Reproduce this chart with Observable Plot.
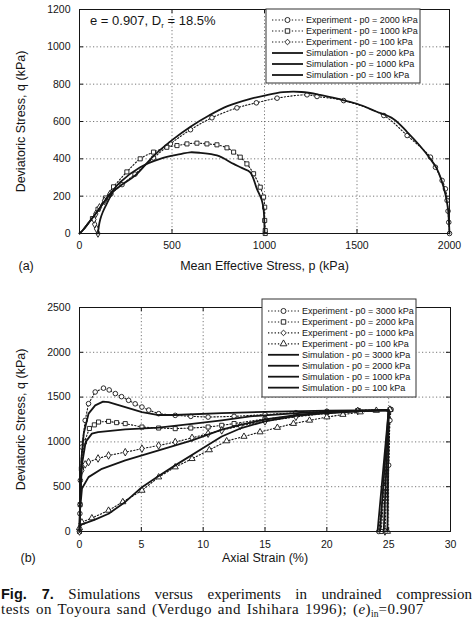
<!DOCTYPE html>
<html>
<head>
<meta charset="utf-8">
<script src="https://cdn.jsdelivr.net/npm/d3@7"></script>
<script src="https://cdn.jsdelivr.net/npm/@observablehq/plot@0.6"></script>
<style>
  body { margin: 0; background: #fff; }
  #fig { position: relative; width: 474px; height: 629px; overflow: hidden; background: #fff; color: #111;
         font-family: "Liberation Sans", Arial, Helvetica, sans-serif; }
  #pa { position: absolute; left: 0; top: 0; }
  #pb { position: absolute; left: 0; top: 290px; }
  #cap { position: absolute; left: 1px; top: 587px; width: 471px; color: #111;
         font-family: "Liberation Serif", "Times New Roman", serif; font-size: 15px; line-height: 14.5px; }
  #cap .l1 { text-align: justify; text-align-last: justify; white-space: nowrap; }
  #cap .l2 { letter-spacing: 0.5px; word-spacing: 1.6px; white-space: nowrap; }
  #cap b { font-family: "Liberation Sans", Arial, sans-serif; font-size: 14.5px; }
  #cap sub { font-size: 9.5px; line-height: 0; vertical-align: -3px; letter-spacing: 0; }
</style>
</head>
<body>
<div id="fig">
  <div id="pa"></div>
  <div id="pb"></div>
  <div id="cap">
    <div class="l1"><b>Fig. 7.</b> Simulations versus experiments in undrained compression</div>
    <div class="l2">tests on Toyoura sand (Verdugo and Ishihara 1996); (<i>e</i>)<sub>in</sub>=0.907</div>
  </div>
</div>
<script>
// ---------- (a) effective stress paths: [p (kPa), q (kPa)] ----------
const expA2000 = [[2000,0],[1996,60],[1992,120],[1987,177],[1978,239],[1960,284],[1924,355],[1897,409],
  [1771,525],[1645,632],[1428,712],[1284,734],[1230,743],[1068,725],[956,700],[851,673],[716,620],
  [600,556],[491,480],[400,405],[300,318],[230,262],[170,212]];
const expA1000 = [[1004,0],[1004,16],[1001,70],[1001,141],[995,195],[977,248],[941,320],[905,373],
  [869,409],[833,436],[797,459],[743,475],[689,480],[635,484],[581,480],[527,471],[472,462],[400,436],
  [328,400],[256,330],[184,250],[140,190],[100,130],[70,80]];
const expA100 = [[100,0],[92,25],[82,50],[78,75],[88,105],[108,140],[135,175],[165,212]];
const simA2000 = [[2000,0],[1997,60],[1992,130],[1978,210],[1955,290],[1930,350],[1896,400],[1840,470],
  [1770,545],[1697,614],[1600,655],[1500,695],[1400,721],[1300,743],[1200,758],[1100,757],[1000,739],
  [923,721],[800,682],[700,632],[600,572],[500,500],[400,415],[300,310],[230,262],[166,212],[130,165],
  [90,110],[50,58],[20,20],[0,0]];
const simA1000 = [[1000,0],[999,60],[995,130],[985,180],[959,239],[923,328],[880,350],[833,373],
  [743,418],[653,432],[598,435],[545,425],[436,400],[328,355],[220,275],[166,212],[130,165],[90,110],
  [50,58],[20,20],[0,0]];
const simA100 = [[100,0],[104,35],[112,75],[126,115],[145,155],[168,200],[180,222]];

const legendA = ["Experiment - p0 = 2000 kPa", "Experiment - p0 = 1000 kPa", "Experiment - p0 = 100 kPa",
  "Simulation - p0 = 2000 kPa", "Simulation - p0 = 1000 kPa", "Simulation - p0 = 100 kPa"];
const aXTicks = [0, 500, 1000, 1500, 2000];
const aYTicks = [0, 200, 400, 600, 800, 1000, 1200];

// ---------- (b) stress-strain curves: [axial strain (%), q (kPa)] ----------
const expB3000 = [[0,0],[0.03,200],[0.07,570],[0.19,942],[0.46,1240],[0.73,1427],[1.27,1557],[1.94,1600],
  [2.4,1580],[2.9,1539],[3.4,1505],[3.97,1464],[4.5,1425],[5.05,1389],[5.6,1355],[6.4,1315],[7.74,1296],
  [9,1285],[10.4,1277],[12.5,1285],[15,1305],[17.5,1325],[20,1342],[22.5,1352],[25.2,1362],[25.1,1240],
  [25.0,740],[24.6,490],[24.2,0]];
const expB2000 = [[0,0],[0.05,300],[0.15,700],[0.4,1000],[0.8,1150],[1.2,1190],[1.54,1222],[2.35,1229],
  [3.0,1215],[3.7,1204],[5.05,1166],[6.4,1155],[7.74,1148],[9,1155],[10.4,1166],[11.5,1185],[12.5,1205],
  [15,1255],[17.5,1295],[20,1330],[22.5,1350],[25.1,1360],[24.4,0]];
const expB1000 = [[0,0],[0.05,300],[0.19,682],[0.46,749],[0.73,775],[1.5,815],[2.35,849],[3.7,885],
  [5.05,924],[6.4,960],[7.74,998],[9.1,1045],[10.4,1092],[11.5,1129],[13,1180],[15,1230],[17.5,1280],
  [20,1320],[22.5,1345],[25.1,1360],[24.7,0]];
const expB100 = [[0,40],[0.19,104],[1,150],[2.35,235],[3.5,330],[5.05,458],[6.4,607],[7.74,719],[9.1,812],
  [10.5,910],[11.9,1010],[13.3,1060],[14.6,1110],[16,1160],[17.3,1204],[18.6,1240],[20,1277],[21.3,1305],
  [22.7,1333],[24,1350],[25.1,1360],[24.9,0]];
const simB3000 = [[0,0],[0.05,400],[0.15,800],[0.35,1100],[0.73,1315],[1.27,1408],[1.9,1450],[2.35,1445],
  [3.7,1389],[5.05,1333],[6.4,1300],[7.7,1300],[11.5,1322],[15,1336],[20,1350],[25,1355],[24.1,0]];
const simB2000 = [[0,0],[0.05,350],[0.2,750],[0.5,1000],[1.0,1092],[1.5,1110],[3.7,1140],[6.4,1160],
  [9.1,1200],[11.5,1240],[13.8,1285],[17.9,1324],[20.6,1340],[25,1355],[24.3,0]];
const simB1000 = [[0,0],[0.05,250],[0.2,480],[0.73,607],[1.81,700],[3.7,793],[6.4,905],[9.1,1017],
  [11.5,1136],[13,1190],[15,1250],[17.5,1300],[20,1330],[25,1355],[24.6,0]];
const simB100 = [[0,50],[0.19,80],[1.2,130],[2.35,198],[3.7,330],[5.05,495],[6.4,620],[7.74,738],[9.9,924],
  [11.5,1060],[13,1150],[15,1230],[17.5,1290],[20,1320],[22.5,1340],[25,1355],[24.9,0]];

const legendB = ["Experiment - p0 = 3000 kPa", "Experiment - p0 = 2000 kPa", "Experiment - p0 = 1000 kPa",
  "Experiment - p0 = 100 kPa", "Simulation - p0 = 3000 kPa", "Simulation - p0 = 2000 kPa",
  "Simulation - p0 = 1000 kPa", "Simulation - p0 = 100 kPa"];
const bXTicks = [0, 5, 10, 15, 20, 25, 30];
const bYTicks = [0, 500, 1000, 1500, 2000, 2500];

// ---------- drawing ----------
const FONT = "'Liberation Sans', Arial, Helvetica, sans-serif";
const INK = "#151515";
const symbolOf = {circle: d3.symbolCircle, square: d3.symbolSquare, diamond: d3.symbolDiamond2, triangle: d3.symbolTriangle};

function panel(o) {
  const W = 474, H = o.height - o.mt - o.mb, fw = W - o.ml - o.mr;
  const toRows = sets => sets.flatMap((s, k) => s.map(([x, y]) => ({x, y, k})));
  const exp = toRows(o.exp), sim = toRows(o.sim);
  const grid = {stroke: "#555", strokeOpacity: 1, strokeWidth: 0.8, strokeDasharray: "1.2,2.3"};
  const plain = d => String(d);
  return Plot.plot({
    width: W, height: o.height,
    marginLeft: o.ml, marginRight: o.mr, marginTop: o.mt, marginBottom: o.mb,
    style: {fontFamily: FONT, fontSize: "10.5px", color: INK, background: "white", overflow: "visible"},
    x: {domain: o.xDomain}, y: {domain: o.yDomain},
    marks: [
      Plot.gridX(o.xTicks, grid),
      Plot.gridY(o.yTicks, grid),
      Plot.ruleX(o.xTicks, {x: d => d, insetTop: H - 4, stroke: INK}),
      Plot.ruleX(o.xTicks, {x: d => d, insetBottom: H - 4, stroke: INK}),
      Plot.ruleY(o.yTicks, {y: d => d, insetRight: fw - 4, stroke: INK}),
      Plot.ruleY(o.yTicks, {y: d => d, insetLeft: fw - 4, stroke: INK}),
      Plot.line(exp, {x: "x", y: "y", z: "k", stroke: INK, strokeWidth: 1.1, strokeDasharray: "1.3,2",
        curve: o.curve}),
      ...o.exp.map((s, k) => Plot.dot(s, {x: d => d[0], y: d => d[1], symbol: o.symbols[k], r: 2.3,
        fill: "white", stroke: INK, strokeWidth: 0.9})),
      Plot.line(sim, {x: "x", y: "y", z: "k", stroke: INK, strokeWidth: 1.8, curve: o.curve}),
      Plot.frame({stroke: INK, strokeWidth: 1}),
      Plot.axisX(o.xTicks, {tickSize: 0, tickPadding: o.xPad, label: null, fontSize: 10.5, tickFormat: plain}),
      Plot.axisY(o.yTicks, {tickSize: 0, tickPadding: 9, label: null, fontSize: 10.5, tickFormat: plain}),
      Plot.text([o.xLabel], {frameAnchor: "bottom", dy: o.labelDy, fontSize: 12.5, fill: INK, textAnchor: "middle"}),
      Plot.text([o.tag], {frameAnchor: "bottom-left", dx: o.tagDx, dy: o.labelDy, fontSize: 12.5,
        textAnchor: "start", fill: INK}),
      Plot.text([o.yLabel], {frameAnchor: "left", dx: -59, rotate: -90, fontSize: 12.5, fill: INK,
        textAnchor: "middle"})
    ]
  });
}

function legend(svg, labels, symbols, box) {
  const g = d3.select(svg).append("g").attr("font-family", FONT).attr("font-size", 9)
    .attr("fill", INK).attr("text-anchor", "start");
  g.append("rect").attr("x", box.x).attr("y", box.y).attr("width", box.w).attr("height", box.h)
    .attr("fill", "white").attr("stroke", "#333").attr("stroke-width", 1);
  labels.forEach((label, i) => {
    const y = box.row0 + i * box.dy;
    const isExp = i < symbols.length;
    g.append("line").attr("x1", box.x + 6).attr("x2", box.x + 37).attr("y1", y).attr("y2", y)
      .attr("stroke", INK).attr("stroke-width", isExp ? 1.1 : 1.8)
      .attr("stroke-dasharray", isExp ? "1.3,2" : null);
    if (isExp) {
      g.append("path").attr("d", d3.symbol(symbolOf[symbols[i]], 20)())
        .attr("transform", `translate(${box.x + 21.5},${y})`)
        .attr("fill", "white").attr("stroke", INK).attr("stroke-width", 0.9);
    }
    g.append("text").attr("x", box.x + 40).attr("y", y).attr("dy", "0.35em").text(label);
  });
}

// panel (a)
const symA = ["circle", "square", "diamond"];
const svgA = panel({
  height: 280, mt: 9, mb: 47, ml: 79, mr: 25, curve: "catmull-rom",
  xDomain: [0, 2000], yDomain: [0, 1200], xTicks: aXTicks, yTicks: aYTicks, xPad: 8,
  exp: [expA2000, expA1000, expA100], sim: [simA2000, simA1000, simA100], symbols: symA,
  xLabel: "Mean Effective Stress, p (kPa)", yLabel: "Deviatoric Stress, q (kPa)",
  tag: "(a)", tagDx: -61, labelDy: 36
});
legend(svgA, legendA, symA, {x: 266, y: 9, w: 154, h: 74, row0: 20, dy: 11});
const note = d3.select(svgA).append("text").attr("x", 90).attr("y", 25).attr("text-anchor", "start")
  .attr("font-family", FONT).attr("font-size", 13).attr("fill", INK);
note.append("tspan").text("e = 0.907, D");
note.append("tspan").attr("font-size", 8).attr("dy", 3).text("r");
note.append("tspan").attr("dy", -3).text(" = 18.5%");
document.getElementById("pa").append(svgA);

// panel (b)
const symB = ["circle", "square", "diamond", "triangle"];
const svgB = panel({
  height: 280, mt: 17, mb: 39, ml: 79, mr: 24, curve: "linear",
  xDomain: [0, 30], yDomain: [0, 2500], xTicks: bXTicks, yTicks: bYTicks, xPad: 9,
  exp: [expB3000, expB2000, expB1000, expB100], sim: [simB3000, simB2000, simB1000, simB100], symbols: symB,
  xLabel: "Axial Strain (%)", yLabel: "Deviatoric Stress, q (kPa)",
  tag: "(b)", tagDx: -59, labelDy: 30
});
legend(svgB, legendB, symB, {x: 262, y: 9, w: 154, h: 98, row0: 21, dy: 10.95});
document.getElementById("pb").append(svgB);
</script>
</body>
</html>
